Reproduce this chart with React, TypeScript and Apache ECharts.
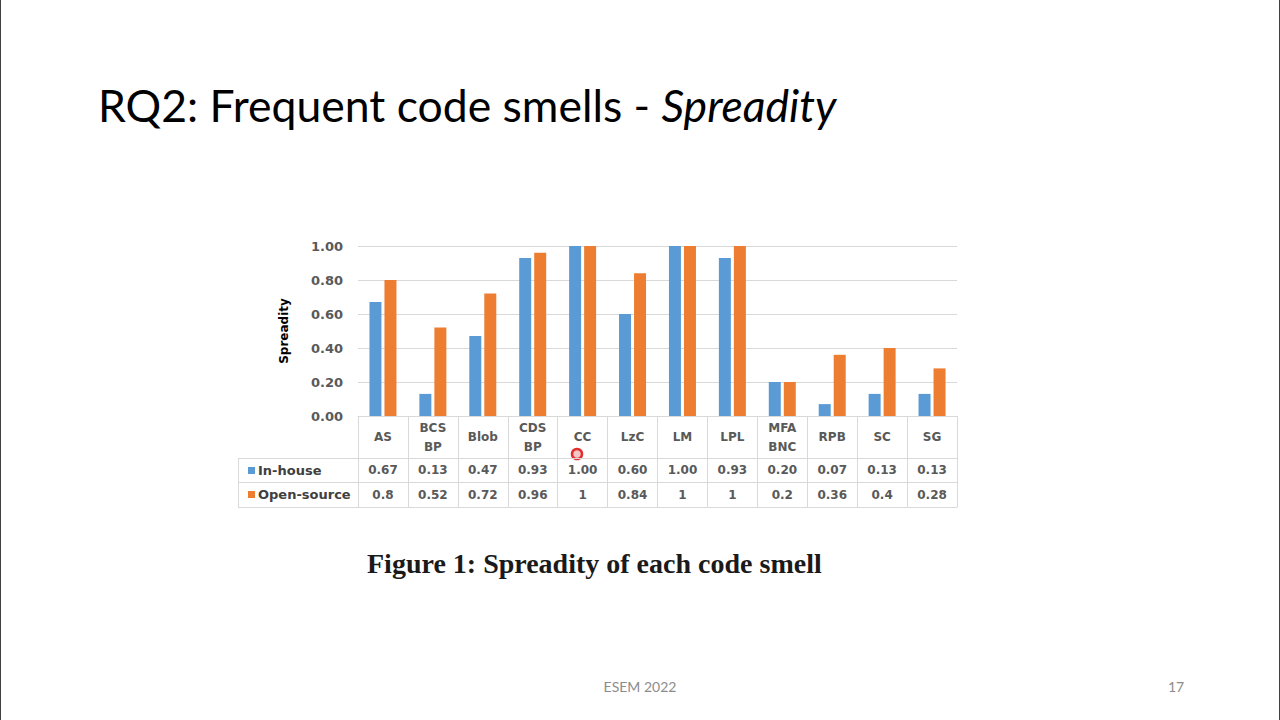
import { useEffect, useRef } from 'react';
import * as echarts from 'echarts';

const smells = ['AS', 'BCS\nBP', 'Blob', 'CDS\nBP', 'CC', 'LzC', 'LM', 'LPL', 'MFA\nBNC', 'RPB', 'SC', 'SG'];
const inHouse = [0.67, 0.13, 0.47, 0.93, 1.0, 0.6, 1.0, 0.93, 0.2, 0.07, 0.13, 0.13];
const openSource = [0.8, 0.52, 0.72, 0.96, 1, 0.84, 1, 1, 0.2, 0.36, 0.4, 0.28];
const inHouseLabels = inHouse.map((v) => v.toFixed(2));
const openSourceLabels = openSource.map((v) => String(v));
const yTicks = [0, 0.2, 0.4, 0.6, 0.8, 1.0];

const BLUE = '#5b9bd5';
const ORANGE = '#ed7d31';
const GRID_LINE = '#d9d9d9';
const TEXT = '#595959';
const FONT = '"DejaVu Sans", Verdana, sans-serif';

export default function App() {
  const chartRef = useRef<HTMLDivElement>(null);

  useEffect(() => {
    if (!chartRef.current) return;
    const chart = echarts.init(chartRef.current, undefined, { renderer: 'svg' });

    // extra category axes below the plot make up the rows of the data table
    const tableAxis = (offset: number, labels: string[] | null, margin: number) => ({
      type: 'category',
      data: smells,
      position: 'bottom',
      offset,
      gridIndex: 0,
      axisLine: { show: true, lineStyle: { color: GRID_LINE, width: 1 } },
      axisTick: { show: false },
      axisLabel: labels
        ? {
            show: true,
            interval: 0,
            margin,
            verticalAlign: 'middle',
            color: TEXT,
            fontFamily: FONT,
            fontWeight: 'bold',
            fontSize: 12,
            formatter: (_v: string, i: number) => labels[i],
          }
        : { show: false },
    });

    chart.setOption({
      animation: false,
      backgroundColor: '#ffffff',
      title: [
        {
          text: '{n|RQ2: Frequent code smells - }{i|Spreadity}',
          left: 93,
          top: 77,
          textStyle: {
            rich: {
              n: { fontFamily: 'Lato, "Noto Sans", sans-serif', fontWeight: 'normal', fontSize: 44.5, color: '#000000' },
              i: {
                fontFamily: 'Lato, "Noto Sans", sans-serif',
                fontWeight: 'normal',
                fontSize: 44.5,
                fontStyle: 'italic',
                color: '#000000',
              },
            },
          },
        },
        {
          text: 'Figure 1: Spreadity of each code smell',
          left: 362,
          top: 544,
          textStyle: { fontFamily: '"Liberation Serif", serif', fontWeight: 'bold', fontSize: 28, color: '#1a1a1a' },
        },
        {
          text: 'ESEM 2022',
          left: 'center',
          top: 674,
          textStyle: { fontFamily: 'Lato, sans-serif', fontWeight: 'normal', fontSize: 14, color: '#8c8c8c' },
        },
        {
          text: '17',
          left: 1163,
          top: 674,
          textStyle: { fontFamily: 'Lato, sans-serif', fontWeight: 'normal', fontSize: 14, color: '#8c8c8c' },
        },
      ],
      legend: {
        orient: 'vertical',
        left: 243,
        top: 459,
        itemWidth: 7,
        itemHeight: 7,
        itemGap: 11,
        icon: 'rect',
        data: ['In-house', 'Open-source'],
        textStyle: { color: '#404040', fontFamily: FONT, fontWeight: 'bold', fontSize: 13, padding: [0, 0, 0, -2] },
      },
      grid: { left: 358, right: 323, top: 246, bottom: 304, containLabel: false },
      xAxis: [
        {
          type: 'category',
          data: smells,
          position: 'bottom',
          axisLine: { show: true, lineStyle: { color: GRID_LINE, width: 1 } },
          axisTick: { show: true, length: 91, interval: 0, alignWithLabel: false, lineStyle: { color: GRID_LINE } },
          axisLabel: {
            interval: 0,
            margin: 21,
            verticalAlign: 'middle',
            color: TEXT,
            fontFamily: FONT,
            fontWeight: 'bold',
            fontSize: 12,
            lineHeight: 19,
          },
        },
        tableAxis(42, inHouseLabels, 12),
        tableAxis(66, openSourceLabels, 13),
        tableAxis(91, null, 0),
      ],
      yAxis: {
        type: 'value',
        min: 0,
        max: yTicks[yTicks.length - 1],
        interval: 0.2,
        name: 'Spreadity',
        nameLocation: 'middle',
        nameGap: 68,
        nameRotate: 90,
        nameTextStyle: { color: '#000000', fontFamily: FONT, fontWeight: 'bold', fontSize: 12 },
        axisLine: { show: false },
        axisTick: { show: false },
        splitLine: { lineStyle: { color: GRID_LINE, width: 1 } },
        axisLabel: {
          margin: 15,
          color: TEXT,
          fontFamily: FONT,
          fontWeight: 'bold',
          fontSize: 13,
          formatter: (v: number) => v.toFixed(2),
        },
      },
      series: [
        {
          name: 'In-house',
          type: 'bar',
          xAxisIndex: 0,
          data: inHouse,
          barWidth: 12,
          barGap: '25%',
          itemStyle: { color: BLUE },
        },
        {
          name: 'Open-source',
          type: 'bar',
          xAxisIndex: 0,
          data: openSource,
          barWidth: 12,
          barGap: '25%',
          itemStyle: { color: ORANGE },
        },
      ],
      graphic: [
        // left column borders of the data table
        { type: 'line', shape: { x1: 238, y1: 458.5, x2: 358, y2: 458.5 }, style: { stroke: GRID_LINE, lineWidth: 1 } },
        { type: 'line', shape: { x1: 238, y1: 482.5, x2: 358, y2: 482.5 }, style: { stroke: GRID_LINE, lineWidth: 1 } },
        { type: 'line', shape: { x1: 238, y1: 507.5, x2: 358, y2: 507.5 }, style: { stroke: GRID_LINE, lineWidth: 1 } },
        { type: 'line', shape: { x1: 238.5, y1: 458, x2: 238.5, y2: 507 }, style: { stroke: GRID_LINE, lineWidth: 1 } },
        // slide frame edges
        { type: 'line', shape: { x1: 0.5, y1: 0, x2: 0.5, y2: 720 }, style: { stroke: '#404040', lineWidth: 1 } },
        { type: 'line', shape: { x1: 1279.5, y1: 0, x2: 1279.5, y2: 720 }, style: { stroke: '#404040', lineWidth: 1 } },
        // pointer mark
        { type: 'circle', shape: { cx: 577, cy: 454, r: 5 }, style: { fill: '#f4c7c7', stroke: '#e03030', lineWidth: 2.5 } },
      ],
    });

    return () => {
      chart.dispose();
    };
  }, []);

  return (
    <div
      ref={chartRef}
      style={{ position: 'absolute', left: 0, top: 0, width: 1280, height: 720 }}
    />
  );
}
